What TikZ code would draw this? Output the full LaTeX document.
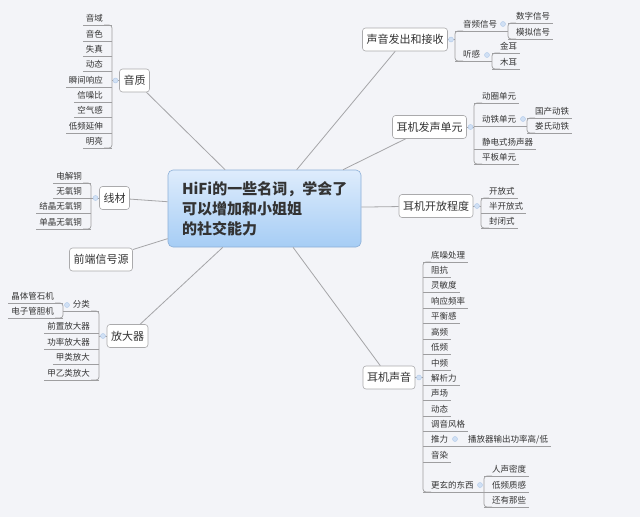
\documentclass[tikz,border=0pt]{standalone}
\usepackage{fontspec}
\setmainfont{Noto Sans CJK SC}
\definecolor{bgcol}{RGB}{243,244,248}
\definecolor{ulcol}{RGB}{158,158,160}
\definecolor{conncol}{RGB}{165,165,168}
\definecolor{topicdraw}{RGB}{170,170,172}
\definecolor{txtcol}{RGB}{51,51,51}
\definecolor{hubtop}{RGB}{222,236,252}
\definecolor{hubbot}{RGB}{166,205,245}
\definecolor{hubdraw}{RGB}{140,175,215}
\definecolor{dotfill}{RGB}{208,224,244}
\definecolor{dotdraw}{RGB}{175,200,232}
\tikzset{
  item/.style={inner sep=0pt, text=txtcol, font=\fontsize{8.5}{10}\selectfont},
  ul/.style={draw=ulcol, line width=0.7pt},
  conn/.style={draw=conncol, line width=0.8pt},
  topic/.style={draw=topicdraw, fill=white, rounded corners=3pt, inner xsep=4pt,
    inner ysep=0pt, minimum height=23pt, text=txtcol, font=\fontsize{11}{13}\selectfont,
    line width=0.6pt},
  hubbox/.style={draw=hubdraw, top color=hubtop, bottom color=hubbot, rounded corners=5pt,
    minimum width=193pt, minimum height=77pt, text width=165pt, align=left, inner xsep=0pt,
    text=txtcol, font=\fontsize{15}{20}\selectfont\bfseries, line width=0.6pt},
  dot/.style={circle, inner sep=0pt, minimum size=5pt, fill=dotfill, draw=dotdraw, line width=0.4pt}
}
\newcommand{\RItem}[4]{%
  \node[item, anchor=base west] (#1) at ({#2+8},{#3-4}) {#4};
  \draw[ul] (#2,#3) -- ([xshift=3pt,yshift=-4pt]#1.base east);}
\newcommand{\RPar}[5]{%
  \node[item, anchor=base west] (#1) at ({#2+8},{#3-4}) {#4};
  \draw[ul] (#2,#3) -- (#5,#3);}
\newcommand{\LItem}[4]{%
  \node[item, anchor=base east] (#1) at ({#2-9},{#3-4}) {#4};
  \draw[ul] (#2,#3) -- ([xshift=-3pt,yshift=-4pt]#1.base west);}
\newcommand{\LPar}[5]{%
  \node[item, anchor=base east] (#1) at ({#2-9},{#3-4}) {#4};
  \draw[ul] (#2,#3) -- (#5,#3);}
\newcommand{\RBr}[3]{\draw[ul, rounded corners=3pt] ({#1+8},#2) -- (#1,#2) -- (#1,#3) -- ({#1+8},#3);}
\newcommand{\LBr}[3]{\draw[ul, rounded corners=3pt] ({#1-8},#2) -- (#1,#2) -- (#1,#3) -- ({#1-8},#3);}
\begin{document}
\begin{tikzpicture}[x=1pt,y=-1pt]
\fill[bgcol] (0,0) rectangle (640,517);
\useasboundingbox (0,0) rectangle (640,517);

% hub
\node[hubbox] (hub) at (264.5,208.5) {HiFi的一些名词，学会了\\可以增加和小姐姐\\的社交能力};

% topics
\node[topic] (yinzhi) at (134.5,80.5) {音质};
\node[topic] (xiancai) at (114.5,198) {线材};
\node[topic] (qianduan) at (101,259.5) {前端信号源};
\node[topic] (fangdaqi) at (127.5,336) {放大器};
\node[topic] (shengyin) at (405,39.5) {声音发出和接收};
\node[topic] (fasheng) at (429.5,127) {耳机发声单元};
\node[topic] (kaifang) at (436,206) {耳机开放程度};
\node[topic] (erji) at (389,377.5) {耳机声音};

% main connectors
\draw[conn] (yinzhi) -- (hub);
\draw[conn] (xiancai) -- (hub);
\draw[conn] (qianduan) -- (hub);
\draw[conn] (fangdaqi) -- (hub);
\draw[conn] (shengyin) -- (hub);
\draw[conn] (fasheng) -- (hub);
\draw[conn] (kaifang) -- (hub);
\draw[conn] (erji) -- (hub);

% bracket attach points
\coordinate (byz) at (112,80.5);
\coordinate (bxc) at (91,198);
\coordinate (bfd) at (99,336);
\coordinate (bsy) at (455,39.5);
\coordinate (bfs) at (474,127);
\coordinate (bkf) at (481,206);
\coordinate (bes) at (423,377.5);
\draw[ul] (yinzhi.west) -- (byz);
\draw[ul] (xiancai.west) -- (bxc);
\draw[ul] (fangdaqi.west) -- (bfd);
\draw[ul] (shengyin.east) -- (bsy);
\draw[ul] (fasheng.east) -- (bfs);
\draw[ul] (kaifang.east) -- (bkf);
\draw[ul] (erji.east) -- (bes);

% 音质
\LBr{112}{25}{148}
\LItem{yz1}{112}{25}{音域}
\LItem{yz2}{112}{41}{音色}
\LItem{yz3}{112}{56}{失真}
\LItem{yz4}{112}{71}{动态}
\LItem{yz5}{112}{87}{瞬间响应}
\LItem{yz6}{112}{102}{信噪比}
\LItem{yz7}{112}{117}{空气感}
\LItem{yz8}{112}{133}{低频延伸}
\LItem{yz9}{112}{148}{明亮}

% 线材
\LBr{91}{183}{229}
\LItem{xc1}{91}{183}{电解铜}
\LItem{xc2}{91}{198}{无氧铜}
\LItem{xc3}{91}{213}{结晶无氧铜}
\LItem{xc4}{91}{229}{单晶无氧铜}

% 放大器
\LBr{99}{311}{380}
\LPar{fl}{99}{311}{分类}{63}
\LItem{fd2}{99}{333}{前置放大器}
\LItem{fd3}{99}{349}{功率放大器}
\LItem{fd4}{99}{364}{甲类放大}
\LItem{fd5}{99}{380}{甲乙类放大}
\LBr{63}{303}{318}
\LItem{fl1}{63}{303}{晶体管石机}
\LItem{fl2}{63}{318}{电子管胆机}

% 声音发出和接收
\RBr{455}{31}{61}
\RPar{sy1}{455}{31}{音频信号}{508}
\RPar{sy2}{455}{61}{听感}{492}
\RBr{508}{23}{39}
\RItem{sy11}{508}{23}{数字信号}
\RItem{sy12}{508}{39}{模拟信号}
\RBr{492}{53}{69}
\RItem{sy21}{492}{53}{金耳}
\RItem{sy22}{492}{69}{木耳}

% 耳机发声单元
\RBr{474}{103}{164}
\RItem{fs1}{474}{103}{动圈单元}
\RPar{fs2}{474}{126}{动铁单元}{527}
\RItem{fs3}{474}{149}{静电式扬声器}
\RItem{fs4}{474}{164}{平板单元}
\RBr{527}{118}{133}
\RItem{fs21}{527}{118}{国产动铁}
\RItem{fs22}{527}{133}{娄氏动铁}

% 耳机开放程度
\RBr{481}{198}{228}
\RItem{kf1}{481}{198}{开放式}
\RItem{kf2}{481}{213}{半开放式}
\RItem{kf3}{481}{228}{封闭式}

% 耳机声音
\RBr{423}{262}{492}
\RItem{es1}{423}{262}{底噪处理}
\RItem{es2}{423}{277}{阻抗}
\RItem{es3}{423}{292}{灵敏度}
\RItem{es4}{423}{308}{响应频率}
\RItem{es5}{423}{323}{平衡感}
\RItem{es6}{423}{339}{高频}
\RItem{es7}{423}{354}{低频}
\RItem{es8}{423}{370}{中频}
\RItem{es9}{423}{385}{解析力}
\RItem{es10}{423}{400}{声场}
\RItem{es11}{423}{416}{动态}
\RItem{es12}{423}{431}{调音风格}
\RPar{es13}{423}{446}{推力}{460}
\RItem{es131}{460}{446}{播放器输出功率高/低}
\RItem{es14}{423}{462}{音染}
\RPar{es15}{423}{492}{更玄的东西}{484}
\RBr{484}{476}{507}
\RItem{es151}{484}{476}{人声密度}
\RItem{es152}{484}{492}{低频质感}
\RItem{es153}{484}{507}{还有那些}

% collapse markers
\node[dot] (dyz) at (115.5,80.5) {};
\node[dot] (dxc) at (95.5,198) {};
\node[dot] (dfd) at (103,336) {};
\node[dot] (dfl) at (67,305) {};
\node[dot] (dsy) at (451,39.5) {};
\node[dot] (dsy1) at (503,24) {};
\node[dot] (dsy2) at (487,55) {};
\node[dot] (dfs) at (470.5,127) {};
\node[dot] (dfs2) at (523,119) {};
\node[dot] (dkf) at (477,206) {};
\node[dot] (des) at (419,377.5) {};
\node[dot] (des13) at (455,439) {};
\node[dot] (des15) at (480,485) {};
\end{tikzpicture}
\end{document}
